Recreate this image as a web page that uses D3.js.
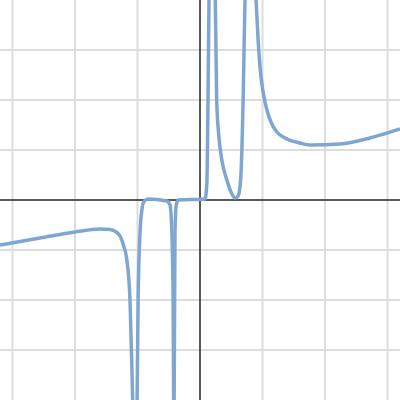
<!DOCTYPE html>
<html><head><meta charset="utf-8">
<script src="https://cdn.jsdelivr.net/npm/d3@7"></script>
<style>body{margin:0;background:#fff}</style>
</head><body>
<svg id="plot" width="400" height="400"></svg>
<script>
// curve pieces, in graph units
var segA = [[-3.2,-0.9],[-2.56,-0.76],[-2.0,-0.64],[-1.6,-0.58],[-1.44,-0.59],[-1.34,-0.64],[-1.28,-0.72],[-1.22,-0.92],[-1.17,-1.2],[-1.12,-2.0],[-1.09,-3.34],[-1.07,-4.4]];
var segB = [[-1.01,-4.4],[-0.99,-2.0],[-0.96,-0.66],[-0.93,-0.2],[-0.9,-0.04],[-0.83,0.02],[-0.53,-0.02],[-0.48,-0.1],[-0.45,-0.66],[-0.43,-2.0],[-0.42,-4.4]];
var segC = [[-0.416,-4.4],[-0.40,-0.66],[-0.38,-0.1],[-0.35,0],[0.08,0.02],[0.11,0.34],[0.128,2.0],[0.144,4.0],[0.152,4.4]];
var segD = [[0.24,4.4],[0.267,2.0],[0.3,1.3],[0.35,0.8],[0.43,0.4],[0.5,0.15],[0.56,0.04],[0.61,0.08],[0.65,0.4],[0.69,2.0],[0.72,4.0],[0.73,4.4]];
var segE = [[0.88,4.4],[0.93,3.2],[0.96,2.66],[1.01,2.16],[1.07,1.8],[1.15,1.52],[1.23,1.36],[1.36,1.24],[1.6,1.14],[1.76,1.1],[2.24,1.12],[2.72,1.24],[3.2,1.42]];
var xTicks = [-3,-2,-1,1,2,3];
var yTicks = [-3,-2,-1,1,2,3];

var svg = d3.select("#plot");
var x = d3.scaleLinear().domain([-3.2,3.2]).range([0,400]);
var y = d3.scaleLinear().domain([-4,4]).range([400,0]);

svg.append("defs").append("clipPath").attr("id","c")
  .append("rect").attr("width",400).attr("height",400);

svg.selectAll("line.gx").data(xTicks).enter().append("line")
  .attr("x1",function(d){return x(d);}).attr("x2",function(d){return x(d);})
  .attr("y1",0).attr("y2",400).attr("stroke","#ddd").attr("stroke-width",2);
svg.selectAll("line.gy").data(yTicks).enter().append("line")
  .attr("y1",function(d){return y(d);}).attr("y2",function(d){return y(d);})
  .attr("x1",0).attr("x2",400).attr("stroke","#ddd").attr("stroke-width",2);

svg.append("line").attr("x1",x(0)).attr("x2",x(0)).attr("y1",0).attr("y2",400)
  .attr("stroke","#222").attr("stroke-width",1.5);
svg.append("line").attr("y1",y(0)).attr("y2",y(0)).attr("x1",0).attr("x2",400)
  .attr("stroke","#222").attr("stroke-width",1.5);

var line = d3.line().x(function(d){return x(d[0]);}).y(function(d){return y(d[1]);})
  .curve(d3.curveMonotoneX);

svg.append("g").attr("clip-path","url(#c)").selectAll("path")
  .data([segA,segB,segC,segD,segE]).enter().append("path")
  .attr("d",line).attr("fill","none").attr("stroke","#7fa6d2")
  .attr("stroke-width",3.5).attr("stroke-linejoin","round");
</script>
</body></html>
